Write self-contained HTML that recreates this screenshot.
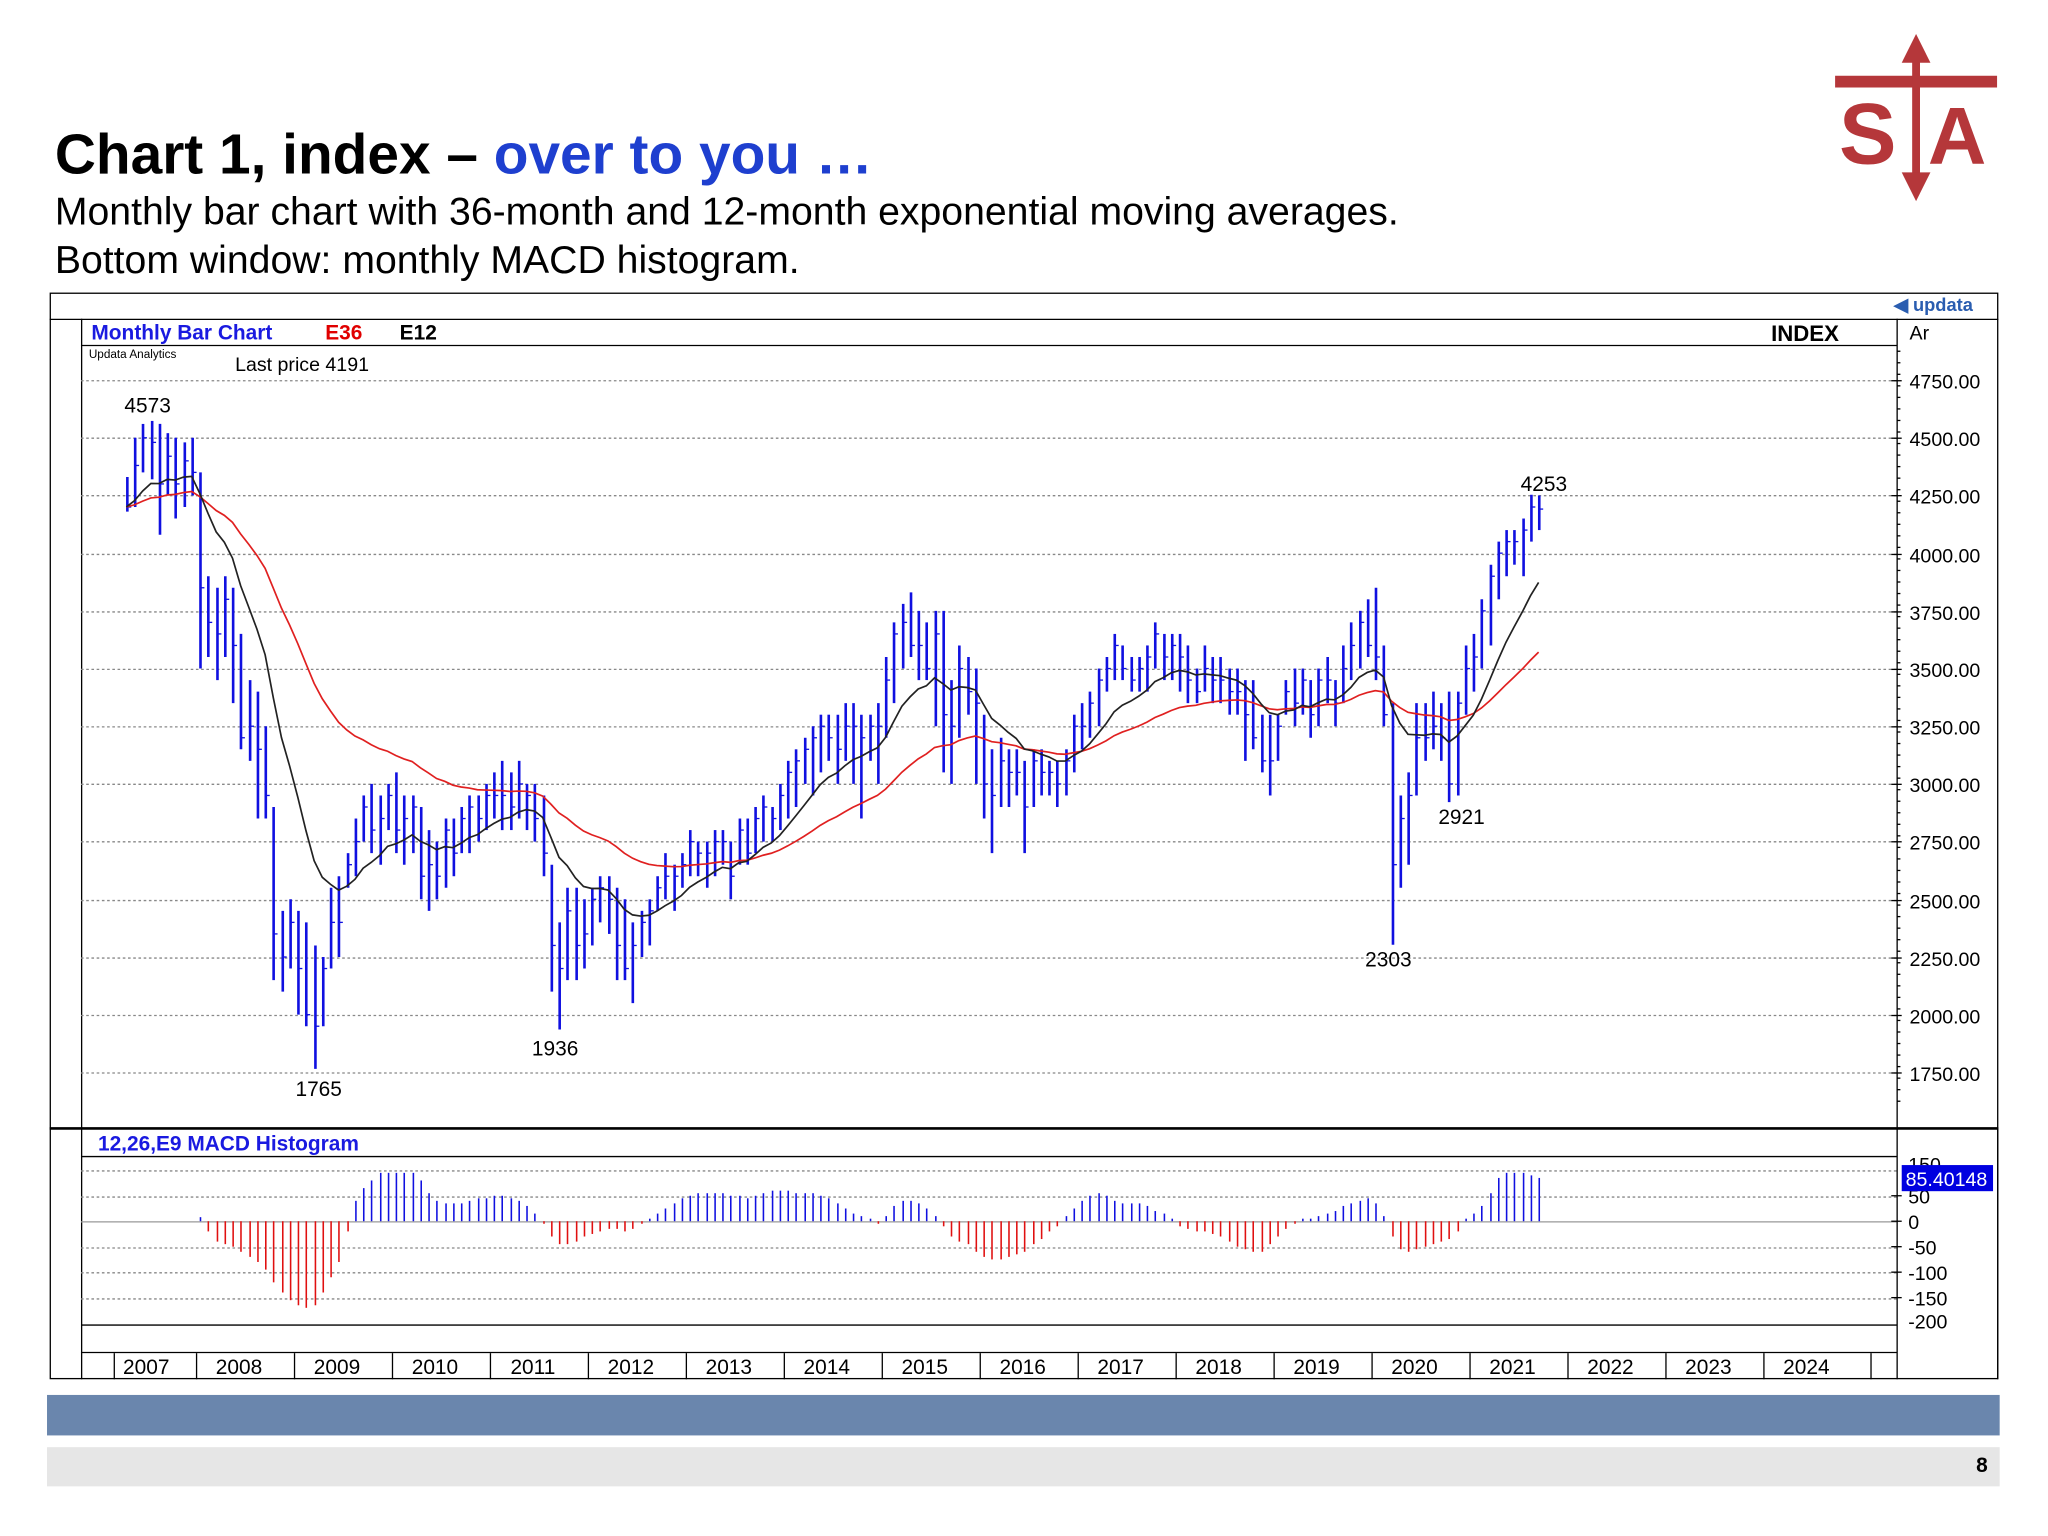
<!DOCTYPE html>
<html><head><meta charset="utf-8">
<style>
html,body{margin:0;padding:0;background:#fff;}
#wrap{width:2048px;height:1536px;overflow:hidden;position:relative;}
#page{position:absolute;left:0;top:0;width:1568px;height:1176px;transform:scale(1.306122);transform-origin:0 0;font-family:"Liberation Sans",sans-serif;}
.t{position:absolute;white-space:nowrap;}
</style></head>
<body>
<div id="wrap"><div id="page">
<div class="t" style="left:42px;top:95px;font-size:43.5px;font-weight:bold;color:#000;">Chart 1, index – <span style="color:#1e3fcf">over to you …</span></div>
<div class="t" style="left:42px;top:146px;font-size:30px;color:#000;">Monthly bar chart with 36-month and 12-month exponential moving averages.</div>
<div class="t" style="left:42px;top:183px;font-size:30px;color:#000;">Bottom window: monthly MACD histogram.</div>

<svg style="position:absolute;left:1400px;top:26px" width="135" height="130" viewBox="0 0 135 130">
<polygon points="67,0 78,22 56,22" fill="#b5373a"/>
<rect x="5" y="32" width="124" height="9" fill="#b5373a"/>
<rect x="64" y="20" width="6" height="95" fill="#b5373a"/>
<polygon points="67,128 56,106 78,106" fill="#b5373a"/>
<text x="8" y="99" font-family="Liberation Sans" font-weight="bold" font-size="66" fill="#b5373a">S</text>
<text x="76" y="99" font-family="Liberation Sans" font-weight="bold" font-size="62" fill="#b5373a">A</text>
</svg>

<svg id="chart" style="position:absolute;left:0;top:0" width="1568" height="1176" font-family="Liberation Sans"></svg>

<div style="position:absolute;left:36px;top:1068px;width:1495px;height:31px;background:#6a86ad"></div>
<div style="position:absolute;left:36px;top:1108px;width:1495px;height:30px;background:#e6e6e6"></div>
<div class="t" style="left:1513px;top:1114px;font-size:16px;font-weight:bold">8</div>
</div></div>
<script>
// price data Apr 2007 .. Sep 2021 (monthly)
const highs=[4330,4500,4560,4573,4560,4520,4500,4480,4500,
4350,3900,3850,3900,3850,3650,3450,3400,3250,2900,2450,2500,
2450,2400,2300,2250,2550,2600,2700,2850,2950,3000,2950,3000,
3050,2950,2950,2900,2800,2750,2850,2850,2900,2950,2950,3000,
3050,3100,3050,3100,3000,3000,2950,2650,2400,2550,2550,2500,
2550,2600,2600,2550,2500,2400,2450,2500,2600,2700,2650,2700,
2800,2750,2750,2800,2800,2750,2850,2850,2900,2950,2900,3000,
3100,3150,3200,3250,3300,3300,3300,3350,3350,3300,3300,3350,
3550,3700,3780,3830,3750,3700,3750,3750,3450,3600,3550,3500,
3300,3150,3200,3150,3150,3100,3150,3150,3100,3100,3150,3300,
3350,3400,3500,3550,3650,3600,3550,3550,3600,3700,3650,3650,
3650,3600,3500,3600,3550,3550,3500,3500,3450,3450,3300,3300,
3300,3450,3500,3500,3450,3500,3550,3450,3600,3700,3750,3800,
3850,3600,3350,2950,3050,3350,3350,3400,3350,3400,3400,3600,
3650,3800,3950,4050,4100,4100,4150,4253,4250];
const lows=[4180,4200,4350,4320,4080,4250,4150,4200,4250,
3500,3550,3450,3550,3350,3150,3100,2850,2850,2150,2100,2200,
2000,1950,1765,1950,2200,2250,2550,2600,2750,2700,2650,2800,
2700,2650,2700,2500,2450,2500,2550,2600,2700,2700,2750,2800,
2850,2800,2800,2850,2800,2750,2600,2100,1936,2150,2150,2200,
2300,2400,2350,2150,2150,2050,2250,2300,2450,2500,2450,2550,
2600,2600,2550,2600,2650,2500,2650,2650,2700,2750,2750,2800,
2850,2900,3000,2950,3050,3100,3000,3100,3000,2850,3100,3000,
3200,3350,3500,3550,3450,3450,3250,3050,3000,3200,3300,3000,
2850,2700,2900,2900,2950,2700,2900,2950,2950,2900,2950,3050,
3150,3200,3250,3400,3450,3450,3400,3400,3400,3500,3450,3450,
3400,3350,3350,3400,3350,3350,3300,3300,3100,3150,3050,2950,
3100,3300,3250,3300,3200,3250,3350,3250,3350,3450,3500,3550,
3450,3250,2303,2550,2650,2950,3100,3150,3100,2921,2950,3300,
3400,3500,3600,3800,3900,3950,3900,4050,4100];
const closes=[4200,4380,4500,4480,4300,4420,4300,4400,4350,
3850,3700,3650,3800,3600,3200,3250,3150,2950,2350,2250,2400,
2200,2000,1950,2200,2400,2400,2650,2750,2900,2800,2850,2950,
2800,2850,2900,2600,2650,2600,2800,2700,2850,2900,2850,2950,
2950,2950,2900,3000,2950,2850,2700,2300,2200,2450,2300,2350,
2500,2550,2500,2300,2200,2300,2400,2450,2550,2600,2600,2650,
2750,2700,2700,2750,2750,2600,2800,2700,2850,2900,2850,2950,
3050,3100,3150,3200,3250,3200,3150,3250,3250,3200,3250,3250,
3450,3650,3700,3600,3600,3500,3650,3300,3250,3500,3400,3350,
3000,2950,3100,3050,3050,2900,3100,3050,3050,3000,3100,3250,
3250,3350,3450,3500,3600,3500,3450,3500,3550,3650,3550,3600,
3550,3450,3400,3500,3450,3450,3400,3400,3300,3200,3100,3100,
3250,3400,3350,3450,3300,3450,3450,3350,3500,3600,3700,3600,
3550,3300,2650,2850,2950,3200,3200,3250,3200,3000,3350,3500,
3550,3750,3900,4000,4050,4050,4100,4200,4191];
// MACD histogram Jan 2008 .. Sep 2021
const macdHist=[8,-20,-40,-45,-50,-60,-70,-80,-95,-120,-140,-155,
-165,-170,-165,-140,-110,-80,-20,40,65,80,95,95,
95,95,95,80,55,40,35,35,35,40,45,45,
50,50,45,40,30,15,-5,-30,-45,-45,-40,-30,
-25,-20,-15,-15,-20,-15,-5,5,15,25,35,45,
50,55,55,55,55,50,50,45,50,55,60,60,
60,55,55,55,50,45,35,25,15,10,5,-5,
10,30,40,40,35,25,10,-10,-30,-40,-45,-60,
-70,-75,-75,-70,-65,-60,-45,-35,-20,-10,10,25,
40,50,55,50,40,35,35,35,30,20,15,5,
-10,-15,-20,-20,-25,-30,-40,-50,-55,-60,-60,-45,
-30,-15,-5,5,5,10,15,20,30,35,40,45,
35,10,-30,-55,-60,-55,-50,-45,-40,-35,-20,5,
15,30,55,85,95,95,95,90,85];
const priceTicks=[4750,4500,4250,4000,3750,3500,3250,3000,2750,2500,2250,2000,1750];
const macdTicks=[50,0,-50,-100,-150];
const years=[2007,2008,2009,2010,2011,2012,2013,2014,2015,2016,2017,2018,2019,2020,2021,2022,2023,2024];
const annotations=[["4573",113,316],["1765",244,839],["1936",425,808],["4253",1182,376],["2303",1063,740],["2921",1119,631]];

const NS="http://www.w3.org/2000/svg";
const svg=document.getElementById('chart');
function el(tag,attrs,parent){const e=document.createElementNS(NS,tag);for(const k in attrs)e.setAttribute(k,attrs[k]);(parent||svg).appendChild(e);return e;}
const xOf=i=>153+(i-9)*6.25;
const yP=p=>291+(4750-p)*44.17/250;
const yM=v=>935-v*19.5/50;

let e;
e=el('rect',{x:38.5,y:224.5,width:1491,height:831,fill:'#fff',stroke:'#000','stroke-width':1});

el('line',{x1:38,y1:244.5,x2:1530,y2:244.5,stroke:'#000'});
el('line',{x1:62,y1:264.5,x2:1452,y2:264.5,stroke:'#000'});
el('line',{x1:62.5,y1:244,x2:62.5,y2:1056,stroke:'#000'});
el('line',{x1:1452.5,y1:244,x2:1452.5,y2:1056,stroke:'#000'});
el('line',{x1:38,y1:864,x2:1530,y2:864,stroke:'#000','stroke-width':2});
el('line',{x1:62,y1:885.5,x2:1452,y2:885.5,stroke:'#000'});
el('line',{x1:62,y1:1014.5,x2:1452,y2:1014.5,stroke:'#000'});
el('line',{x1:62,y1:1035.5,x2:1452,y2:1035.5,stroke:'#000'});

function txt(s,x,y,size,fill,weight,anchor,name){const t=el('text',{x:x,y:y,'font-size':size,fill:fill||'#000','font-weight':weight||'normal','text-anchor':anchor||'start'});t.textContent=s;return t;}
txt('◀ updata',1450,238,14,'#2a5db0','bold','start','updata-brand');
txt('Monthly Bar Chart',70,260,16,'#1a1ae0','bold','start','chart-title');
txt('E36',249,260,16,'#e00000','bold','start','legend-e36');
txt('E12',306,260,16,'#000','bold','start','legend-e12');
txt('INDEX',1356,261,17,'#000','bold','start','instrument-name');
txt('Ar',1462,260,15,'#000','normal','start','axis-mode');
txt('Updata Analytics',68,274,9,'#000','normal','start','updata-analytics-label');
txt('Last price 4191',180,284,15,'#000','normal','start','last-price');
txt('12,26,E9 MACD Histogram',75,881,16,'#1a1ae0','bold','start','macd-title');

priceTicks.forEach(p=>{
  const y=Math.round(yP(p))+0.5;
  const g=el('line',{x1:62,y1:y,x2:1452,y2:y,stroke:'#888','stroke-dasharray':'2,2','stroke-width':1});
  
  el('line',{x1:1448,y1:y,x2:1456,y2:y,stroke:'#000'});
  txt(p.toFixed(2),1462,y+6,15,'#000','normal','start','price-tick-label');
});
for(let p=1625;p<=4875;p+=50){const y=yP(p);el('line',{x1:1452,y1:y,x2:1455,y2:y,stroke:'#000'});}

for(let i=0;i<closes.length;i++){
  const x=Math.round(xOf(i))+0.5;
  const b=el('line',{x1:x,y1:yP(highs[i]),x2:x,y2:yP(lows[i]),stroke:'#1010e0','stroke-width':2});
  
  el('line',{x1:x,y1:yP(closes[i]),x2:x+3,y2:yP(closes[i]),stroke:'#1010e0','stroke-width':1});
}
function ema(n){const k=2/(n+1);let v=closes[0];return closes.map(c=>(v=c*k+v*(1-k)));}
const e36=ema(36),e12=ema(12);
const l36=el('polyline',{points:e36.map((v,i)=>xOf(i)+','+yP(v)).join(' '),fill:'none',stroke:'#e02020','stroke-width':1.3});

const l12=el('polyline',{points:e12.map((v,i)=>xOf(i)+','+yP(v)).join(' '),fill:'none',stroke:'#222','stroke-width':1.3});


annotations.forEach(a=>txt(a[0],a[1],a[2],16,'#000','normal','middle','price-annotation'));

[100,50,0,-50,-100,-150,-200].forEach(v=>{
  const y=Math.round(yM(v))+0.5;
  if(y<887||y>1013)return;
  const g=el('line',{x1:62,y1:y,x2:1452,y2:y,stroke:v===0?'#999':'#888','stroke-dasharray':v===0?'':'2,2'});
  
});
macdTicks.forEach(v=>{const y=yM(v);el('line',{x1:1448,y1:y,x2:1456,y2:y,stroke:'#000'});txt(String(v),1461,y+6,15,'#000','normal','start','macd-tick-label');});
txt('150',1461,897,15,'#000','normal','start','macd-tick-label');
txt('-200',1461,1017,15,'#000','normal','start','macd-tick-label');
el('rect',{x:1456,y:892,width:70,height:20,fill:'#0000e0'});
txt('85.40148',1459,908,15,'#fff','normal','start','macd-last-value');
el('rect',{x:1526,y:886,width:3,height:128,fill:'#fff'});
el('line',{x1:1529.5,y1:864,x2:1529.5,y2:1056,stroke:'#000'});
macdHist.forEach((v,j)=>{
  const x=Math.round(xOf(j+9))+0.5;
  const b=el('line',{x1:x,y1:yM(0),x2:x,y2:yM(v),stroke:v>=0?'#1010e0':'#e01010','stroke-width':1.2});
  
});

years.forEach((yr,k)=>{
  const x0=k===0?87:150+(k-1)*75;
  el('line',{x1:x0+0.5,y1:1036,x2:x0+0.5,y2:1056,stroke:'#000'});
  const cx=k===0?112:x0+33;
  txt(String(yr),cx,1052,16,'#000','normal','middle','year-label');
});
el('line',{x1:1432.5,y1:1036,x2:1432.5,y2:1056,stroke:'#000'});
</script>
</body></html>
